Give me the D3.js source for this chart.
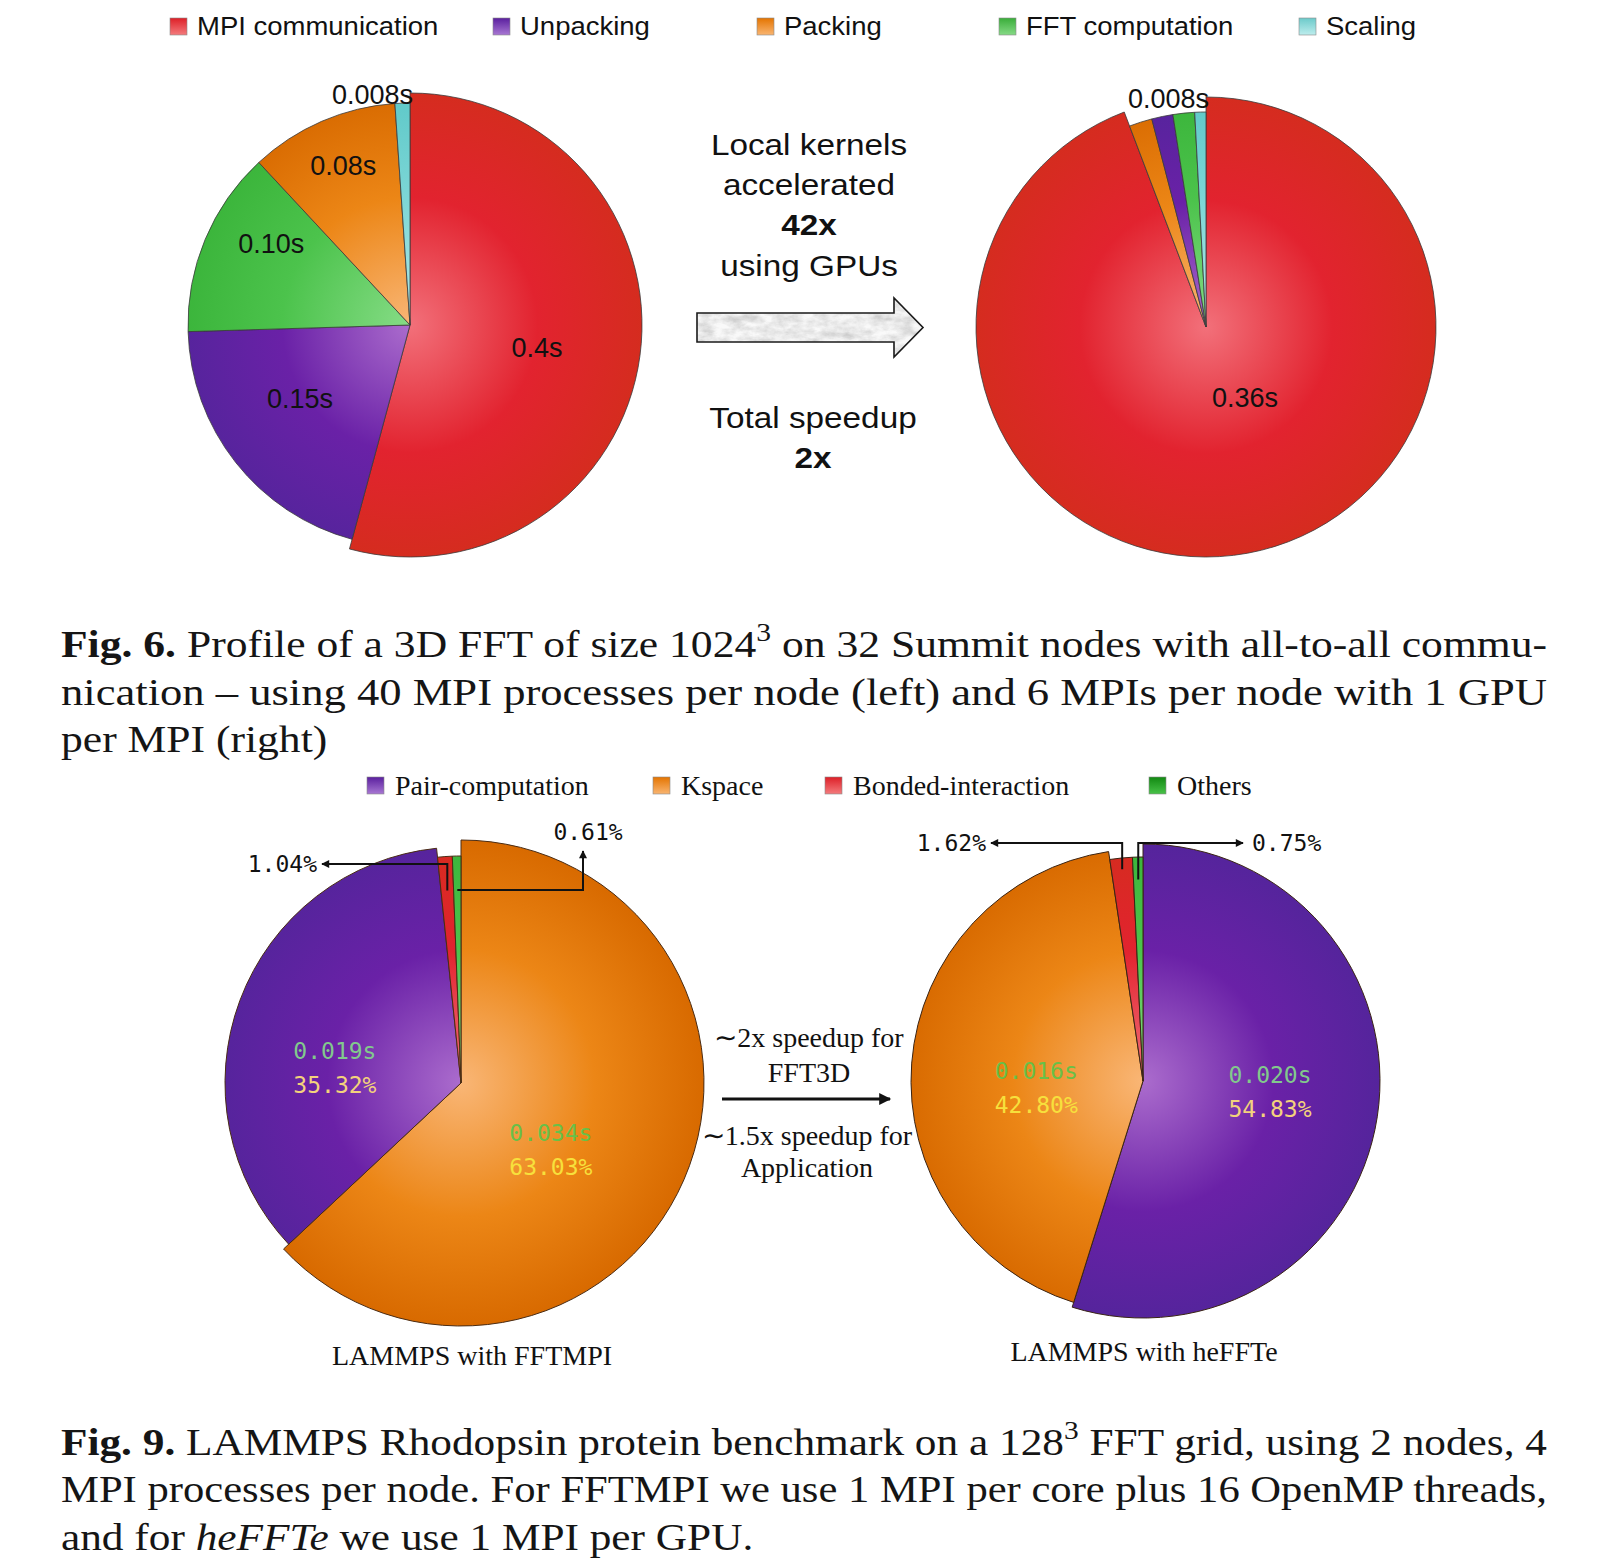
<!DOCTYPE html>
<html><head><meta charset="utf-8">
<script src="https://cdn.jsdelivr.net/npm/d3@7"></script>
<style>
html,body{margin:0;padding:0;background:#fff;}
svg{display:block;}
text{white-space:pre;}
</style></head>
<body>
<svg id="chart" width="1600" height="1561"></svg>
<script>
// ================= DATA =================
const fig6Categories = ["MPI communication", "Unpacking", "Packing", "FFT computation", "Scaling"];
// left pie (40 MPI per node), clockwise from 12 o'clock
const fig6LeftOrder  = ["MPI communication", "Unpacking", "FFT computation", "Packing", "Scaling"];
const fig6LeftTimes  = [0.4, 0.15, 0.10, 0.08, 0.008];
const fig6LeftLabels = ["0.4s", "0.15s", "0.10s", "0.08s", "0.008s"];
// right pie (6 MPI + GPUs), clockwise from 12 o'clock (small slices)
const fig6RightOrder  = ["MPI communication", "Packing", "Unpacking", "FFT computation", "Scaling"];
const fig6RightTimes  = [0.36, 0.0066, 0.0061, 0.0062, 0.0032];
const fig6RightLabels = ["0.36s", "", "", "", ""];
const fig6RightKernelLabel = "0.008s";
const fig6MiddleText = ["Local kernels", "accelerated", "42x", "using GPUs"];
const fig6SpeedupText = ["Total speedup", "2x"];

const fig9Categories = ["Pair-computation", "Kspace", "Bonded-interaction", "Others"];
const fig9LeftOrder    = ["Kspace", "Pair-computation", "Bonded-interaction", "Others"];
const fig9LeftPercents = [63.03, 35.32, 1.04, 0.61];
const fig9LeftTimes    = [0.034, 0.019, null, null];
const fig9RightOrder    = ["Pair-computation", "Kspace", "Bonded-interaction", "Others"];
const fig9RightPercents = [54.83, 42.80, 1.62, 0.75];
const fig9RightTimes    = [0.020, 0.016, null, null];
const fig9Titles = ["LAMMPS with FFTMPI", "LAMMPS with heFFTe"];
const fig9MiddleTop = ["\u223C2x speedup for", "FFT3D"];
const fig9MiddleBottom = ["\u223C1.5x speedup for", "Application"];

// ================= STYLE / LAYOUT =================
const colorOf = {
  "MPI communication": "red", "Unpacking": "purple", "Packing": "orange",
  "FFT computation": "green", "Scaling": "cyan",
  "Pair-computation": "purple", "Kspace": "orange", "Bonded-interaction": "red", "Others": "green"
};
const sliceShades = {
  red:    ["#f2707a", "#e2232f", "#d52c1f"],
  purple: ["#ab6ccd", "#6a21a7", "#55249c"],
  orange: ["#f9b676", "#ec8616", "#d86a00"],
  green:  ["#86dc86", "#4cc34c", "#3ab43a"],
  cyan:   ["#b0e9e9", "#7cd6d6", "#5ec8c8"]
};
const legendShades = {
  red: ["#dd1f27", "#f47b7d"], purple: ["#5a1f9e", "#a877d3"], orange: ["#e47400", "#f9b571"],
  green: ["#39ad39", "#86da86"], cyan: ["#6ccaca", "#bdeded"], darkgreen: ["#128912", "#48c248"]
};
const SANS = "'Liberation Sans', Arial, Helvetica, sans-serif";
const SERIF = "'Liberation Serif', 'Times New Roman', serif";
const MONO = "'DejaVu Sans Mono', 'Liberation Mono', monospace";

const svg = d3.select("#chart");
const defs = svg.append("defs");
const rad = d => d * Math.PI / 180;
const polar = (a, r) => [r * Math.sin(rad(a)), -r * Math.cos(rad(a))];
const deg = a => a * 180 / Math.PI;

// legend gradients
Object.entries(legendShades).forEach(([k, s]) => {
  const lg = defs.append("linearGradient").attr("id", "lg-" + k).attr("x1", 0).attr("y1", 0).attr("x2", 0).attr("y2", 1);
  lg.append("stop").attr("offset", "0%").attr("stop-color", s[0]);
  lg.append("stop").attr("offset", "100%").attr("stop-color", s[1]);
});

function marker(id, w, h) {
  defs.append("marker").attr("id", id).attr("viewBox", "0 0 10 10").attr("refX", 9).attr("refY", 5)
    .attr("markerWidth", w).attr("markerHeight", h).attr("markerUnits", "userSpaceOnUse").attr("orient", "auto")
    .append("path").attr("d", "M0,0 L10,5 L0,10 Z").attr("fill", "#111");
}
marker("arrSmall", 10, 8);
marker("arrBig", 16, 12);

// marble filter for the big arrow
const mf = defs.append("filter").attr("id", "marble").attr("x", "0%").attr("y", "0%").attr("width", "100%").attr("height", "100%");
mf.append("feTurbulence").attr("type", "fractalNoise").attr("baseFrequency", "0.07 0.13").attr("numOctaves", 4).attr("seed", 5).attr("result", "noise");
mf.append("feColorMatrix").attr("in", "noise").attr("type", "saturate").attr("values", 0).attr("result", "gray");
const ct = mf.append("feComponentTransfer").attr("in", "gray").attr("result", "g2");
["feFuncR", "feFuncG", "feFuncB"].forEach(f => ct.append(f).attr("type", "linear").attr("slope", 0.9).attr("intercept", 0.4));
ct.append("feFuncA").attr("type", "linear").attr("slope", 0).attr("intercept", 1);
mf.append("feComposite").attr("in", "g2").attr("in2", "SourceGraphic").attr("operator", "in");

function drawPie(cfg) {
  const g = svg.append("g").attr("transform", `translate(${cfg.cx},${cfg.cy})`);
  const data = cfg.order.map((c, i) => ({ cat: c, value: cfg.values[i], i }));
  const arcs = d3.pie().sort(null).value(d => d.value)(data);
  const maxR = d3.max(cfg.order, c => cfg.radius(c));
  Object.keys(sliceShades).forEach(k => {
    const s = sliceShades[k];
    const rg = defs.append("radialGradient").attr("id", cfg.id + "-" + k).attr("gradientUnits", "userSpaceOnUse")
      .attr("cx", 0).attr("cy", 0).attr("r", maxR);
    rg.append("stop").attr("offset", "0%").attr("stop-color", s[0]);
    rg.append("stop").attr("offset", "55%").attr("stop-color", s[1]);
    rg.append("stop").attr("offset", "100%").attr("stop-color", s[2]);
  });
  g.selectAll("path.slice").data(arcs).join("path").attr("class", "slice")
    .attr("d", a => d3.arc().innerRadius(0).outerRadius(cfg.radius(a.data.cat))(a))
    .attr("fill", a => `url(#${cfg.id}-${colorOf[a.data.cat]})`)
    .attr("stroke", cfg.stroke).attr("stroke-width", cfg.strokeWidth).attr("stroke-linejoin", "round");
  return { g, arcs, mid: a => deg((a.startAngle + a.endAngle) / 2) };
}

function sansText(parent, x, y, str, size, opts = {}) {
  return parent.append("text")
    .attr("transform", `translate(${x},${y}) scale(${opts.sx || 1},1)`)
    .attr("text-anchor", opts.anchor || "middle")
    .attr("font-family", SANS).attr("font-size", size)
    .attr("font-weight", opts.bold ? "bold" : "normal")
    .attr("fill", opts.fill || "#111").text(str);
}

// ================= FIG 6 =================
// legend
const topLegendX = [170, 493, 757, 999, 1299];
fig6Categories.forEach((c, i) => {
  svg.append("rect").attr("x", topLegendX[i]).attr("y", 18).attr("width", 17).attr("height", 17)
    .attr("fill", `url(#lg-${colorOf[c]})`).attr("stroke", "#8a8a8a").attr("stroke-width", 0.6);
  sansText(svg, topLegendX[i] + 27, 35, c, 25, { anchor: "start", sx: 1.1 });
});

// left pie
const p6L = drawPie({
  id: "p6L", cx: 410, cy: 325, order: fig6LeftOrder, values: fig6LeftTimes,
  radius: c => c === "MPI communication" ? 232 : 222, stroke: "#3a3a3a", strokeWidth: 0.8
});
const p6LLabelPos = { "MPI communication": [2.4, 129], "Unpacking": [4.7, 132], "FFT computation": [7.8, 161], "Packing": [0.7, 173] };
p6L.arcs.forEach(a => {
  const lp = p6LLabelPos[a.data.cat];
  if (!lp) return;
  const [x, y] = polar(p6L.mid(a) + lp[0], lp[1]);
  sansText(p6L.g, x, y + 9.5, fig6LeftLabels[a.data.i], 27);
});
// scaling label above the pie
sansText(p6L.g, 3, -232 + 11, fig6LeftLabels[4], 27, { anchor: "end" });

// right pie
const p6R = drawPie({
  id: "p6R", cx: 1206, cy: 327, order: fig6RightOrder, values: fig6RightTimes,
  radius: c => c === "MPI communication" ? 230 : 215, stroke: "#3a3a3a", strokeWidth: 0.8
});
{
  const a = p6R.arcs[0];
  const [x, y] = polar(p6R.mid(a) - 18.4, 81);
  sansText(p6R.g, x, y + 9.5, fig6RightLabels[0], 27);
  sansText(p6R.g, 3, -230 + 11, fig6RightKernelLabel, 27, { anchor: "end" });
}

// middle text + arrow
const midY = [155, 195, 235, 276];
fig6MiddleText.forEach((t, i) => sansText(svg, 809, midY[i], t, 30, { sx: 1.11, bold: t === "42x" }));
sansText(svg, 813, 428, fig6SpeedupText[0], 30, { sx: 1.11 });
sansText(svg, 813, 468, fig6SpeedupText[1], 30, { sx: 1.11, bold: true });
const bigArrow = "M697,313 L894,313 L894,298 L923,327.5 L894,357 L894,342 L697,342 Z";
svg.append("path").attr("d", bigArrow).attr("fill", "#dcdcdc");
svg.append("path").attr("d", bigArrow).attr("fill", "#fff").attr("filter", "url(#marble)").attr("opacity", 0.85);
svg.append("path").attr("d", bigArrow).attr("fill", "none").attr("stroke", "#1a1a1a").attr("stroke-width", 1.6).attr("stroke-linejoin", "miter");

// ================= CAPTIONS =================
function captionLines(x0, x1, baselines, lines, size) {
  const nodes = lines.map((parts, li) => {
    const t = svg.append("text").attr("x", x0).attr("y", baselines[li])
      .attr("font-family", SERIF).attr("font-size", size).attr("fill", "#151515");
    parts.forEach(p => {
      const ts = t.append("tspan").text(p.t);
      if (p.b) ts.attr("font-weight", "bold");
      if (p.i) ts.attr("font-style", "italic");
      if (p.sup) ts.attr("font-size", size * 0.68).attr("dy", -size * 0.42);
      if (p.after) ts.attr("dy", size * 0.42);
    });
    return t;
  });
  const target = x1 - x0;
  const ratio = target / nodes[0].node().getComputedTextLength();
  nodes.forEach((t, i) => {
    const nat = t.node().getComputedTextLength();
    const len = i < nodes.length - 1 ? target : nat * ratio;
    t.attr("textLength", len).attr("lengthAdjust", "spacingAndGlyphs");
  });
}
captionLines(61, 1547, [657, 705, 752], [
  [{ t: "Fig. 6.", b: 1 }, { t: " Profile of a 3D FFT of size 1024" }, { t: "3", sup: 1 }, { t: " on 32 Summit nodes with all-to-all commu-", after: 1 }],
  [{ t: "nication \u2013 using 40 MPI processes per node (left) and 6 MPIs per node with 1 GPU" }],
  [{ t: "per MPI (right)" }]
], 38);
captionLines(61, 1547, [1455, 1502, 1550], [
  [{ t: "Fig. 9.", b: 1 }, { t: " LAMMPS Rhodopsin protein benchmark on a 128" }, { t: "3", sup: 1 }, { t: " FFT grid, using 2 nodes, 4", after: 1 }],
  [{ t: "MPI processes per node. For FFTMPI we use 1 MPI per core plus 16 OpenMP threads," }],
  [{ t: "and for " }, { t: "heFFTe", i: 1 }, { t: " we use 1 MPI per GPU." }]
], 38);

// ================= FIG 9 =================
const bottomLegendX = [367, 653, 825, 1149];
fig9Categories.forEach((c, i) => {
  const lk = c === "Others" ? "darkgreen" : colorOf[c];
  svg.append("rect").attr("x", bottomLegendX[i]).attr("y", 777).attr("width", 17).attr("height", 17)
    .attr("fill", `url(#lg-${lk})`).attr("stroke", "#8a8a8a").attr("stroke-width", 0.6);
  svg.append("text").attr("x", bottomLegendX[i] + 28).attr("y", 795)
    .attr("font-family", SERIF).attr("font-size", 28).attr("fill", "#111").text(c);
});

const p9L = drawPie({
  id: "p9L", cx: 461, cy: 1083, order: fig9LeftOrder, values: fig9LeftPercents,
  radius: c => ({ "Kspace": 243, "Pair-computation": 236 }[c] || 227), stroke: "#4a2c14", strokeWidth: 1
});
const p9R = drawPie({
  id: "p9R", cx: 1143, cy: 1081, order: fig9RightOrder, values: fig9RightPercents,
  radius: c => ({ "Pair-computation": 237, "Kspace": 232 }[c] || 224), stroke: "#3a2414", strokeWidth: 1
});

const timeColor = { purple: "#82c98c", orange: "#68c048" };
const pctColor = { purple: "#f3d27c", orange: "#f7e03c" };
function sliceLabels(p, times, percents, layout) {
  p.arcs.forEach(a => {
    const lp = layout[a.data.cat];
    if (!lp) return;
    const [x, y] = polar(p.mid(a) + lp[0], lp[1]);
    const col = colorOf[a.data.cat];
    p.g.append("text").attr("x", x).attr("y", y - 17 + 8).attr("text-anchor", "middle")
      .attr("font-family", MONO).attr("font-size", 23).attr("fill", timeColor[col])
      .text(times[a.data.i].toFixed(3) + "s");
    p.g.append("text").attr("x", x).attr("y", y + 17 + 8).attr("text-anchor", "middle")
      .attr("font-family", MONO).attr("font-size", 23).attr("fill", pctColor[col])
      .text(percents[a.data.i].toFixed(2) + "%");
  });
}
sliceLabels(p9L, fig9LeftTimes, fig9LeftPercents, { "Kspace": [13.2, 112], "Pair-computation": [-13.7, 127] });
sliceLabels(p9R, fig9RightTimes, fig9RightPercents, { "Pair-computation": [-3.75, 127.5], "Kspace": [-8.1, 107] });

// small-slice annotations with elbow arrows
function annot(p, idx, rFrac, R, route, label, lx, ly, anchor) {
  const a = p.arcs[idx];
  const [sx, sy] = polar(p.mid(a), rFrac * R);
  let d = `M${sx},${sy}`;
  route.forEach(s => { d += s[0] === "V" ? ` V${s[1]}` : ` H${s[1]}`; });
  p.g.append("path").attr("d", d).attr("fill", "none").attr("stroke", "#111").attr("stroke-width", 2)
    .attr("marker-end", "url(#arrSmall)");
  p.g.append("text").attr("x", lx).attr("y", ly).attr("text-anchor", anchor)
    .attr("font-family", MONO).attr("font-size", 23).attr("fill", "#111").text(label);
}
const fmtPct = v => v.toFixed(2) + "%";
// left pie (center 461,1083)
annot(p9L, 2, 0.85, 227, [["V", 864 - 1083], ["H", 322 - 461]], fmtPct(fig9LeftPercents[2]), 317 - 461, 872 - 1083, "end");
annot(p9L, 3, 0.85, 227, [["H", 583 - 461], ["V", 851 - 1083]], fmtPct(fig9LeftPercents[3]), 588 - 461, 840 - 1083, "middle");
// right pie (center 1143,1081)
annot(p9R, 2, 0.95, 224, [["V", 843 - 1081], ["H", 991 - 1143]], fmtPct(fig9RightPercents[2]), 986 - 1143, 851 - 1081, "end");
annot(p9R, 3, 0.9, 224, [["V", 843 - 1081], ["H", 1243 - 1143]], fmtPct(fig9RightPercents[3]), 1252 - 1143, 851 - 1081, "start");

// middle text + arrow
svg.append("text").attr("x", 809).attr("y", 1047).attr("text-anchor", "middle").attr("font-family", SERIF).attr("font-size", 28).attr("fill", "#111").text(fig9MiddleTop[0]);
svg.append("text").attr("x", 809).attr("y", 1082).attr("text-anchor", "middle").attr("font-family", SERIF).attr("font-size", 28).attr("fill", "#111").text(fig9MiddleTop[1]);
svg.append("line").attr("x1", 722).attr("y1", 1099).attr("x2", 890).attr("y2", 1099)
  .attr("stroke", "#111").attr("stroke-width", 3).attr("marker-end", "url(#arrBig)");
svg.append("text").attr("x", 807).attr("y", 1145).attr("text-anchor", "middle").attr("font-family", SERIF).attr("font-size", 28).attr("fill", "#111").text(fig9MiddleBottom[0]);
svg.append("text").attr("x", 807).attr("y", 1177).attr("text-anchor", "middle").attr("font-family", SERIF).attr("font-size", 28).attr("fill", "#111").text(fig9MiddleBottom[1]);

// titles
svg.append("text").attr("x", 472).attr("y", 1365).attr("text-anchor", "middle").attr("font-family", SERIF).attr("font-size", 28).attr("fill", "#111").text(fig9Titles[0]);
svg.append("text").attr("x", 1144).attr("y", 1361).attr("text-anchor", "middle").attr("font-family", SERIF).attr("font-size", 28).attr("fill", "#111").text(fig9Titles[1]);
</script>
</body></html>
